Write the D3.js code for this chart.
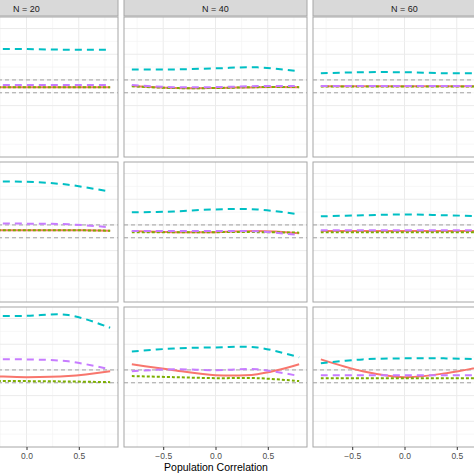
<!DOCTYPE html>
<html><head><meta charset="utf-8">
<script src="https://cdn.jsdelivr.net/npm/d3@7"></script>
<style>body{margin:0;background:#fff}svg{display:block}</style>
</head><body>
<div id="chart"></div>
<script>
// facets
const columnLabels = ["N = 20", "N = 40", "N = 60"];
const xPoints = [-0.8, -0.4, 0, 0.4, 0.8];
const xTicks = [-0.5, 0, 0.5];
const refLines = [6, 5];
const seriesNames = ["red", "green", "teal", "purple"];

// values[row][col] per series
const tealVals = [
  [[8.35,8.4,8.4,8.35,8.35],[6.82,6.82,6.9,6.98,6.67],[6.52,6.6,6.6,6.52,6.52]],
  [[9.28,9.36,9.36,9.13,8.59],[6.98,7.05,7.21,7.21,6.82],[6.67,6.75,6.82,6.75,6.67]],
  [[10.36,10.21,10.21,10.28,9.28],[7.44,7.67,7.75,7.75,6.98],[6.52,6.82,6.9,6.9,6.82]]
];
const purpleVals = [
  [[5.6,5.6,5.6,5.6,5.6],[5.6,5.44,5.44,5.52,5.52],[5.52,5.52,5.52,5.52,5.52]],
  [[6.13,6.13,6.1,6.05,5.82],[5.52,5.52,5.52,5.5,5.21],[5.59,5.59,5.59,5.59,5.59]],
  [[6.82,6.82,6.82,6.67,6.05],[5.9,6.05,5.98,6.05,5.52],[5.59,5.59,5.59,5.59,5.59]]
];
const redVals = [
  [[5.44,5.44,5.44,5.44,5.44],[5.52,5.37,5.37,5.44,5.44],[5.5,5.5,5.5,5.5,5.5]],
  [[5.59,5.59,5.59,5.59,5.55],[5.52,5.44,5.44,5.52,5.36],[5.52,5.52,5.52,5.52,5.52]],
  [[5.52,5.52,5.44,5.52,5.9],[6.44,5.98,5.59,5.67,6.44],[6.82,5.9,5.44,5.75,6.36]]
];
const greenVals = [
  [[5.44,5.44,5.44,5.44,5.44],[5.5,5.37,5.37,5.44,5.44],[5.48,5.48,5.48,5.48,5.48]],
  [[5.59,5.59,5.59,5.59,5.55],[5.44,5.44,5.44,5.44,5.4],[5.44,5.44,5.44,5.44,5.44]],
  [[5.13,5.13,5.13,5.1,5.05],[5.52,5.44,5.36,5.36,5.13],[5.36,5.36,5.36,5.36,5.36]]
];

const W = 474, H = 474;
const colLeft = [-65, 124, 313], panelW = 183;
const rowTop = [17, 162, 307], panelH = 140;

const svg = d3.select("#chart").append("svg").attr("width", W).attr("height", H)
  .style("font-family", "Liberation Sans, Arial, sans-serif");

const styles = {
  red:    {data: redVals,    color: "#F8766D", dash: null},
  green:  {data: greenVals,  color: "#7CAE00", dash: "3,2"},
  teal:   {data: tealVals,   color: "#00BFC4", dash: "7,5"},
  purple: {data: purpleVals, color: "#C77CFF", dash: "7,5"}
};

for (let r = 0; r < 3; r++) {
  for (let c = 0; c < 3; c++) {
    const x = d3.scaleLinear().domain([-0.875, 0.875]).range([colLeft[c], colLeft[c] + panelW]);
    const y = d3.scaleLinear().domain([0, 10.9]).range([rowTop[r] + panelH, rowTop[r]]);
    const g = svg.append("g");
    g.append("rect").attr("x", colLeft[c]).attr("y", rowTop[r]).attr("width", panelW).attr("height", panelH).attr("fill", "#fff");
    // grid
    [-0.75,-0.25,0.25,0.75].forEach(v => g.append("line").attr("x1", x(v)).attr("x2", x(v)).attr("y1", rowTop[r]).attr("y2", rowTop[r]+panelH).attr("stroke", "#F2F2F2").attr("stroke-width", 0.6));
    xTicks.forEach(v => g.append("line").attr("x1", x(v)).attr("x2", x(v)).attr("y1", rowTop[r]).attr("y2", rowTop[r]+panelH).attr("stroke", "#EBEBEB").attr("stroke-width", 1));
    d3.range(1, 11).forEach(v => g.append("line").attr("x1", colLeft[c]).attr("x2", colLeft[c]+panelW).attr("y1", y(v)).attr("y2", y(v)).attr("stroke", v % 2 ? "#F2F2F2" : "#EBEBEB").attr("stroke-width", v % 2 ? 0.6 : 1));
    refLines.forEach(v => g.append("line").attr("x1", colLeft[c]).attr("x2", colLeft[c]+panelW).attr("y1", y(v)).attr("y2", y(v)).attr("stroke", "#8C8C8C").attr("stroke-width", 0.8).attr("stroke-dasharray", "4,3"));
    const line = d3.line().x((d, i) => x(xPoints[i])).y(d => y(d)).curve(d3.curveCatmullRom);
    seriesNames.forEach(s => {
      const st = styles[s];
      g.append("path").attr("d", line(st.data[r][c])).attr("fill", "none").attr("stroke", st.color)
        .attr("stroke-width", 2).attr("stroke-dasharray", st.dash);
    });
    g.append("rect").attr("x", colLeft[c]).attr("y", rowTop[r]).attr("width", panelW).attr("height", panelH).attr("fill", "none").attr("stroke", "#A6A6A6").attr("stroke-width", 1);
    if (r === 0) {
      g.append("rect").attr("x", colLeft[c]).attr("y", -1).attr("width", panelW).attr("height", 17).attr("fill", "#D9D9D9").attr("stroke", "#A6A6A6");
      g.append("text").attr("x", colLeft[c] + panelW/2).attr("y", 12).attr("text-anchor", "middle").attr("font-size", 9).attr("fill", "#1A1A1A").text(columnLabels[c]);
    }
    if (r === 2) {
      const shown = xTicks.filter(v => x(v) - 10 >= 0 && x(v) + 10 <= W);
      const ax = g.append("g").attr("transform", `translate(0,${rowTop[r]+panelH})`)
        .call(d3.axisBottom(x).tickValues(shown).tickFormat(d3.format(".1f")).tickSize(3));
      ax.select(".domain").remove();
      ax.selectAll("line").attr("stroke", "#333");
      ax.selectAll("text").attr("fill", "#4D4D4D").attr("font-size", 8.5).attr("font-family", "Liberation Sans, Arial, sans-serif");
    }
  }
}
svg.append("text").attr("x", 216).attr("y", 471).attr("text-anchor", "middle").attr("font-size", 10.5).attr("fill", "#000").text("Population Correlation");
</script>
</body></html>
